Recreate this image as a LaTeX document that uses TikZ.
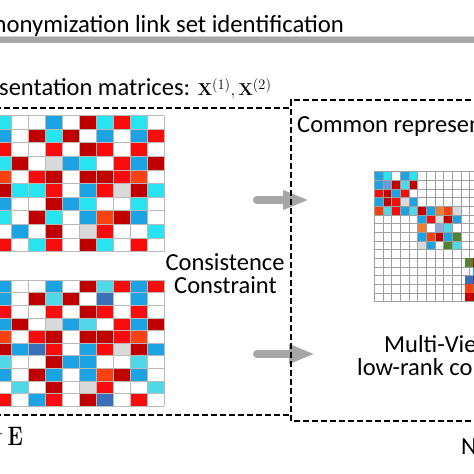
\documentclass[tikz,border=0pt]{standalone}
\usepackage[no-math]{fontspec}
\setmainfont{Carlito}
\usetikzlibrary{arrows.meta}
\definecolor{mC}{RGB}{40,228,240}
\definecolor{mL}{RGB}{80,215,232}
\definecolor{mB}{RGB}{28,163,228}
\definecolor{mK}{RGB}{58,112,184}
\definecolor{mR}{RGB}{250,12,12}
\definecolor{mD}{RGB}{192,0,0}
\definecolor{mO}{RGB}{250,66,16}
\definecolor{mG}{RGB}{217,217,217}
\definecolor{mW}{RGB}{255,255,255}
\definecolor{mE}{RGB}{237,125,49}
\definecolor{mV}{RGB}{142,169,219}
\definecolor{mS}{RGB}{108,154,216}
\definecolor{mN}{RGB}{84,130,53}
\definecolor{mP}{RGB}{112,48,110}
\definecolor{mT}{RGB}{160,112,96}
\definecolor{arrowgray}{RGB}{166,166,166}
\definecolor{bargray}{RGB}{168,168,168}
\definecolor{barlight}{RGB}{210,210,210}
\definecolor{gridgray}{RGB}{185,185,185}
\def\MatA{{C,W,W,B,W,D,C,R,C,W},{B,W,D,C,D,W,B,W,B,R},{R,W,W,R,W,D,R,W,R,W},{C,D,W,G,B,C,W,R,B,D},{O,W,R,D,W,D,D,R,O,W},{D,C,C,R,W,B,R,G,D,C},{B,W,W,D,B,C,W,W,C,W},{C,W,D,C,W,B,O,D,B,W},{W,B,W,D,W,G,R,W,W,C},{R,W,C,R,W,D,C,W,R,W}}
\def\MatB{{B,W,W,B,W,D,L,R,B,R},{B,W,D,L,D,W,K,W,B,W},{R,W,W,R,W,D,R,W,R,W},{B,D,W,G,B,L,W,R,B,D},{O,W,R,D,W,D,D,R,O,W},{D,B,K,R,W,B,R,G,D,B},{L,W,W,D,B,B,W,W,L,W},{B,W,D,B,W,B,O,D,B,W},{W,L,W,D,W,G,R,W,W,L},{R,W,B,R,W,D,K,W,R,W}}
\begin{document}
\begin{tikzpicture}[x=1pt,y=-1pt,
  txt/.style={inner sep=0pt, anchor=base west, font=\fontsize{24.5}{29}\selectfont},
  ctxt/.style={inner sep=0pt, anchor=base, font=\fontsize{24.5}{29}\selectfont},
  dashedbox/.style={line width=2.2pt, dash pattern=on 6pt off 3pt, draw=black},
  gridln/.style={draw=gridgray, line width=0.5pt},
  bigarrow/.style={draw=arrowgray, line width=8pt, line cap=round, -{Triangle[length=26pt,width=18pt,fill=arrowgray]}}]
\useasboundingbox (0,0) rectangle (474,474);
\fill[white] (0,0) rectangle (474,474);
% header
\node[txt, font=\fontsize{24.7}{29}\selectfont] (title) at (-6.5,32) {nonymization link set identification};
\fill[bargray] (0,35.5) rectangle (474,43.3);
\fill[barlight] (0,35.5) rectangle (474,37.3);
% matrix 1
\foreach \rw [count=\i] in \MatA {
  \foreach \c [count=\j] in \rw {
    \fill[fill=m\c] ({-5.7+(\j-1)*17},{115.5+(\i-1)*13.6}) rectangle ++(17,13.6);
  }
}
\foreach \k in {0,...,10} {
  \draw[gridln] ({-5.7+\k*17},115.5) -- ++(0,136);
  \draw[gridln] (-5.7,{115.5+\k*13.6}) -- ++(170,0);
}
% matrix 2
\foreach \rw [count=\i] in \MatB {
  \foreach \c [count=\j] in \rw {
    \fill[fill=m\c] ({-5.7+(\j-1)*17},{280+(\i-1)*12.6}) rectangle ++(17,12.6);
  }
}
\foreach \k in {0,...,10} {
  \draw[gridln] ({-5.7+\k*17},280) -- ++(0,126);
  \draw[gridln] (-5.7,{280+\k*12.6}) -- ++(170,0);
}
% matrix 3 (common representation)
\foreach \r/\c/\k in {1/1/B,1/2/C,1/4/B,1/5/C,
  2/1/B,2/2/S,2/3/D,2/4/L,2/5/D,
  3/1/R,3/2/D,3/3/B,3/4/R,
  4/1/B,4/2/D,4/3/R,4/4/G,4/5/B,
  5/1/O,5/2/L,5/3/R,5/4/B,5/5/L,5/6/D,5/7/B,5/8/E,5/9/O,5/10/G,
  6/6/B,6/7/R,6/8/G,6/9/D,6/10/B,
  7/6/E,7/8/V,7/9/L,
  8/6/B,8/7/O,8/8/D,8/9/B,8/10/N,
  9/6/G,9/7/B,9/9/N,9/10/L} {
  \fill[fill=m\k] ({374.3+(\c-1)*8.65},{171.7+(\r-1)*8.65}) rectangle ++(8.65,8.65);
}
\foreach \k in {0,...,15} {
  \draw[gridln, draw=gray!75] ({374.3+\k*8.65},171.7) -- ++(0,129.75);
  \draw[gridln, draw=gray!75] (374.3,{171.7+\k*8.65}) -- ++(130,0);
}
\foreach \r/\k/\m in {11/N/D,13/K/P,14/O/T,15/D/D} {
  \fill[fill=m\k] (464.5,{171.7+(\r-1)*8.65}) rectangle ++(8.65,8.65);
  \fill[fill=m\m] (473.15,{171.7+(\r-1)*8.65}) rectangle ++(3,8.65);
}
\fill[fill=mB] (473.15,{171.7+11*8.65}) rectangle ++(3,8.65);
% arrows
\coordinate (a1s) at (257,200);
\coordinate (a1e) at (309,200);
\coordinate (a2s) at (257,354);
\coordinate (a2e) at (315,354);
\draw[bigarrow] (a1s) -- (a1e);
\draw[bigarrow] (a2s) -- (a2e);
% dashed boxes
\draw[dashedbox] (-5,108) -- (290.5,108);
\draw[dashedbox] (-5,415) -- (290.5,415);
\draw[dashedbox] (480,100) -- (290.8,100) -- (290.8,421) -- (480,421);
% texts
\node[txt] (reptxt) at (-1,95.5) {sentation matrices: \fontsize{19}{23}\selectfont$\mathbf{X}^{(1)},\mathbf{X}^{(2)}$};
\node[txt] (common) at (297,132) {Common represen};
\node[ctxt] (cons1) at (225,270.5) {Consistence};
\node[ctxt] (cons2) at (225.5,293.8) {Constraint};
\node[txt] (mv1) at (384,352.7) {Multi-View};
\node[txt] (mv2) at (357,375.7) {low-rank con};
\node[inner sep=0pt, anchor=base west] (plus) at (-14.6,440.5) {\fontsize{24}{28}\selectfont$+$};
\node[inner sep=0pt, anchor=base west] (emat) at (7.5,445) {\scalebox{1}[1.29]{\fontsize{20}{24}\selectfont$\mathbf{E}$}};
\node[txt] (nlabel) at (461,454) {N};
\end{tikzpicture}
\end{document}
